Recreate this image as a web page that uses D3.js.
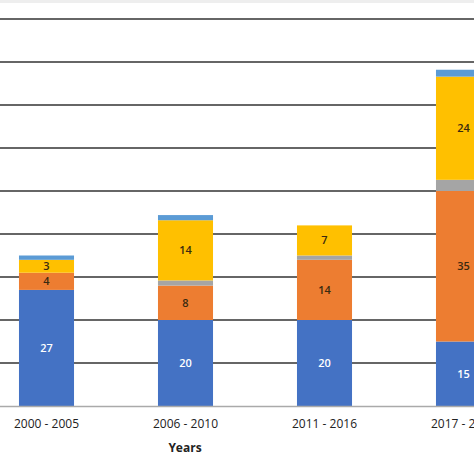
<!DOCTYPE html>
<html><head><meta charset="utf-8">
<script src="https://cdn.jsdelivr.net/npm/d3@7"></script>
<style>body{margin:0;background:#fff}</style>
</head><body>
<svg id="chart" width="474" height="474"></svg>
<script>
// values
const years = ['2000 - 2005', '2006 - 2010', '2011 - 2016', '2017 - 2021']
const seriesA = [27, 20, 20, 15]
const seriesB = [4, 8, 14, 35]
const seriesC = [0, 1.2, 1, 2.6]
const seriesD = [3, 14, 7, 24]
const seriesE = [1, 1.2, 0, 1.6]
const gridTicks = [10, 20, 30, 40, 50, 60, 70, 80, 90]

const keys = ['a', 'b', 'c', 'd', 'e']
const colors = {a: '#4472c4', b: '#ed7d31', c: '#a5a5a5', d: '#ffc000', e: '#5b9bd5'}
const labelled = {a: true, b: true, d: true}

const rows = years.map((y, i) => ({year: y, a: seriesA[i], b: seriesB[i], c: seriesC[i], d: seriesD[i], e: seriesE[i]}))
const stacked = d3.stack().keys(keys)(rows)

const svg = d3.select('#chart')
const x = d3.scaleBand().domain(years).range([-23, 533]).paddingInner(0.604).paddingOuter(0.302)
const y = d3.scaleLinear().domain([0, 90]).range([406, 19])

svg.append('rect').attr('width', 474).attr('height', 3).attr('fill', '#eeeeee')

svg.selectAll('.grid').data(gridTicks).enter().append('line')
    .attr('x1', 0).attr('x2', 474)
    .attr('y1', d => y(d)).attr('y2', d => y(d))
    .attr('stroke', '#333').attr('stroke-width', 1.3)

const groups = svg.selectAll('.layer').data(stacked).enter().append('g')
    .attr('fill', d => colors[d.key])
groups.selectAll('rect').data(d => d).enter().append('rect')
    .attr('x', d => x(d.data.year))
    .attr('width', x.bandwidth())
    .attr('y', d => y(d[1]))
    .attr('height', d => y(d[0]) - y(d[1]))

stacked.filter(s => labelled[s.key]).forEach(s => {
    svg.selectAll('.lbl-' + s.key).data(s).enter().append('text')
        .attr('x', d => x(d.data.year) + x.bandwidth() / 2)
        .attr('y', d => (y(d[0]) + y(d[1])) / 2 + 4)
        .attr('text-anchor', 'middle')
        .attr('font-family', 'Open Sans, sans-serif')
        .attr('font-size', 11).attr('font-weight', 600)
        .attr('fill', s.key === 'a' ? '#fff' : '#3a2a10')
        .text(d => d.data[s.key])
})

svg.append('line').attr('x1', 0).attr('x2', 474).attr('y1', 406.5).attr('y2', 406.5)
    .attr('stroke', '#aaa').attr('stroke-width', 1.5)

svg.selectAll('.tick-lbl').data(years).enter().append('text')
    .attr('x', d => x(d) + x.bandwidth() / 2).attr('y', 428)
    .attr('text-anchor', 'middle')
    .attr('font-family', 'Open Sans, sans-serif').attr('font-size', 12).attr('fill', '#222')
    .text(d => d)

svg.append('text').attr('x', 185).attr('y', 452).attr('text-anchor', 'middle')
    .attr('font-family', 'Open Sans, sans-serif').attr('font-size', 12).attr('font-weight', 700)
    .attr('fill', '#222').text('Years')
</script>
</body></html>
